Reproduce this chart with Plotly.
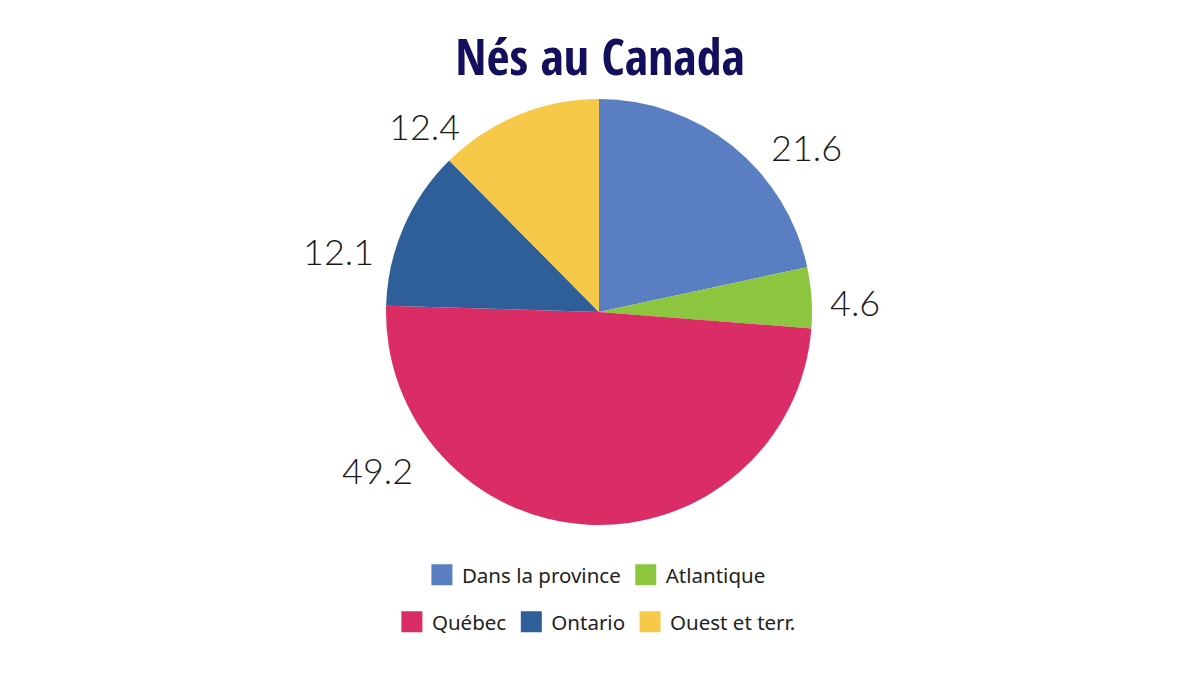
import math
import plotly.graph_objects as go

# ---- data ----
labels = ["Dans la province", "Atlantique", "Québec", "Ontario", "Ouest et terr."]
values = [21.6, 4.6, 49.2, 12.1, 12.4]
colors = ["#5A7EC2", "#8CC63F", "#DA2C65", "#2E5F99", "#F7C948"]
legend_rows = [["Dans la province", "Atlantique"], ["Québec", "Ontario", "Ouest et terr."]]
title_text = "Nés au Canada"

# ---- layout constants ----
W, H = 1200, 675
ML, MR, MT, MB = 386, 388, 99, 150
PW, PH = W - ML - MR, H - MT - MB
# label placement (angle clockwise from 12 o'clock in degrees, distance from centre in px)
label_angles = [51.6, 87.8, 234.4, 283.2, 316.7]
label_dist = [265, 256, 272, 268, 255]

fig = go.Figure()
fig.add_trace(go.Pie(
    labels=labels, values=values, sort=False, direction="clockwise", rotation=0,
    marker=dict(colors=colors, line=dict(width=0)),
    textinfo="none", hoverinfo="label+value", showlegend=False,
    domain=dict(x=[0, 1], y=[0, 1]),
))

# legend entries (two centred rows)
cmap = dict(zip(labels, colors))
for i, row in enumerate(legend_rows):
    for lab in row:
        fig.add_trace(go.Scatter(
            x=[None], y=[None], mode="markers", name=lab,
            marker=dict(symbol="square", size=16, color=cmap[lab],
                        line=dict(width=5, color=cmap[lab])),
            legend="legend" if i == 0 else "legend2", hoverinfo="skip",
        ))

annotations = []
for v, a, d in zip(values, label_angles, label_dist):
    rad = math.radians(a)
    annotations.append(dict(
        x=0.5 + d * math.sin(rad) / PW, y=0.5 + d * math.cos(rad) / PH,
        xref="paper", yref="paper", text=f"{v:.1f}", showarrow=False,
        xanchor="center", yanchor="middle",
        font=dict(family="Lato, DejaVu Sans", size=36, color="#1a1a1a", weight=300),
    ))

legfont = dict(family="Noto Sans, DejaVu Sans", size=20.5, color="#222222")
fig.update_layout(
    width=W, height=H, paper_bgcolor="white", plot_bgcolor="white",
    margin=dict(l=ML, r=MR, t=MT, b=MB),
    title=dict(text=f"<b>{title_text}</b>", x=0.5, xanchor="center", y=1 - 57 / H, yanchor="middle",
               yref="container", xref="container",
               font=dict(family="Noto Sans Condensed, Open Sans Condensed, Roboto Condensed, "
                                "Liberation Sans Narrow, Arial Narrow, Roboto",
                         size=50, color="#130F5C")),
    xaxis=dict(visible=False), yaxis=dict(visible=False),
    annotations=annotations,
    legend=dict(orientation="h", xref="container", yref="container", x=0.497, y=1 - 575 / H,
                xanchor="center", yanchor="middle", font=legfont, bgcolor="rgba(0,0,0,0)"),
    legend2=dict(orientation="h", xref="container", yref="container", x=0.497, y=1 - 622 / H,
                 xanchor="center", yanchor="middle", font=legfont, bgcolor="rgba(0,0,0,0)"),
)
fig.write_html("out.html")
